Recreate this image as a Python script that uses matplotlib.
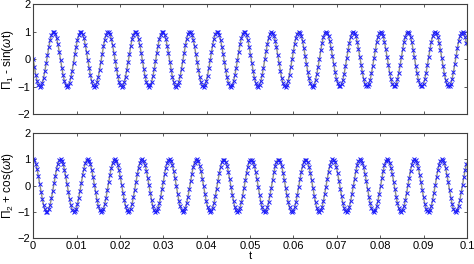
import numpy as np
import matplotlib
matplotlib.use('Agg')
import matplotlib.pyplot as plt

# signal parameters (period ~0.00628 s -> omega = 1000 rad/s)
omega = 1000.0
t_end = 0.1
dt = 0.0003

xticks = [0, 0.01, 0.02, 0.03, 0.04, 0.05, 0.06, 0.07, 0.08, 0.09, 0.1]
xticklabels = ['0', '0.01', '0.02', '0.03', '0.04', '0.05', '0.06', '0.07', '0.08', '0.09', '0.1']
yticks = [-2, -1, 0, 1, 2]
ylabels = [r'$\Pi_1$ - sin($\omega$t)', r'$\Pi_2$ + cos($\omega$t)']

t_line = np.linspace(0, t_end, 2001)
t_mk = np.arange(0, t_end + dt / 2, dt)

curves = [
    (-np.sin(omega * t_line), -np.sin(omega * t_mk)),
    (np.cos(omega * t_line), np.cos(omega * t_mk)),
]

plt.rcParams['font.family'] = ['Liberation Sans', 'DejaVu Sans']
plt.rcParams['mathtext.fontset'] = 'custom'
plt.rcParams['mathtext.rm'] = 'Liberation Sans'
plt.rcParams['mathtext.it'] = 'Liberation Sans:italic'

fig = plt.figure(figsize=(4.74, 2.64), dpi=100)
boxes = [[0.070, 0.568, 0.915, 0.415], [0.070, 0.098, 0.915, 0.398]]

for i, (box, (yl, ym)) in enumerate(zip(boxes, curves)):
    ax = fig.add_axes(box)
    ax.plot(t_line, yl, color='#8a8a8a', lw=1.0)
    ax.plot(t_mk, ym, 'x', color='#1a1aff', ms=2.6, mew=0.7)
    ax.set_xlim(0, t_end)
    ax.set_ylim(-2, 2)
    ax.set_yticks(yticks)
    ax.set_xticks(xticks)
    if i == 1:
        ax.set_xticklabels(xticklabels)
        ax.set_xlabel('t', fontsize=8, labelpad=0)
    else:
        ax.set_xticklabels([])
    ax.set_ylabel(ylabels[i], fontsize=8.5, labelpad=1)
    ax.tick_params(direction='in', top=True, right=True, labelsize=8,
                   length=2.5, width=0.6, color='#404040', pad=2)
    for s in ax.spines.values():
        s.set_linewidth(0.8)
        s.set_color('#404040')

fig.savefig('out.png', dpi=100)
